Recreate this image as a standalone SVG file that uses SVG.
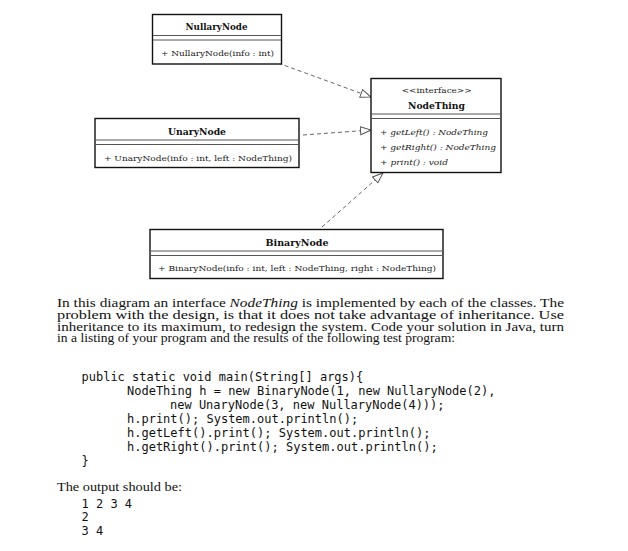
<svg xmlns="http://www.w3.org/2000/svg" width="628" height="551" viewBox="0 0 628 551">
<style>
.box{fill:#fff;stroke:#111;stroke-width:1.4}
.div{stroke:#555;stroke-width:1}
.ttl{font-family:"DejaVu Serif",serif;font-weight:bold;font-size:8.5px;fill:#111;text-anchor:middle}
.st{font-family:"DejaVu Serif",serif;font-size:8px;fill:#222;text-anchor:middle}
.m{font-family:"DejaVu Serif",serif;font-size:8px;fill:#222}
.mi{font-family:"DejaVu Serif",serif;font-size:8px;font-style:italic;fill:#222}
.con{fill:none;stroke:#666;stroke-width:1;stroke-dasharray:4 3}
.p{font-family:"Liberation Serif","Times New Roman",serif;font-size:11.6px;fill:#111}
.c{font-family:"DejaVu Sans Mono",monospace;font-size:12px;fill:#111;white-space:pre}
</style>
<defs>
<marker id="tri" markerUnits="userSpaceOnUse" markerWidth="14" markerHeight="12" refX="11" refY="4.5" orient="auto">
<path d="M0.5,0.5 L11,4.5 L0.5,8.5 z" fill="#fff" stroke="#555" stroke-width="1"/>
</marker>
</defs>
<g id="connectors">
<path class="con" d="M278,63 L371,97" marker-end="url(#tri)"/>
<path class="con" d="M303,135 L371,130" marker-end="url(#tri)"/>
<path class="con" d="M322,227 L383,173" marker-end="url(#tri)"/>
</g>
<g id="NullaryNode">
<rect class="box" x="152.5" y="14.5" width="129" height="49.5"/>
<line class="div" x1="153" y1="35.5" x2="281" y2="35.5"/>
<line class="div" x1="153" y1="40" x2="281" y2="40"/>
<text class="ttl" x="216.5" y="30" textLength="62" lengthAdjust="spacingAndGlyphs">NullaryNode</text>
<text class="m" x="161" y="55.5" textLength="113" lengthAdjust="spacingAndGlyphs">+ NullaryNode(info : int)</text>
</g>
<g id="NodeThing">
<rect class="box" x="371" y="78.5" width="130" height="94"/>
<line class="div" x1="371.5" y1="114" x2="500.5" y2="114"/>
<line class="div" x1="371.5" y1="118.5" x2="500.5" y2="118.5"/>
<text class="st" x="436.7" y="93" textLength="70" lengthAdjust="spacingAndGlyphs">&lt;&lt;interface&gt;&gt;</text>
<text class="ttl" x="436.5" y="108.5" textLength="57" lengthAdjust="spacingAndGlyphs">NodeThing</text>
<text class="mi" x="380" y="135" textLength="108" lengthAdjust="spacingAndGlyphs">+ getLeft() : NodeThing</text>
<text class="mi" x="380" y="150" textLength="116" lengthAdjust="spacingAndGlyphs">+ getRight() : NodeThing</text>
<text class="mi" x="380" y="165" textLength="68" lengthAdjust="spacingAndGlyphs">+ print() : void</text>
</g>
<g id="UnaryNode">
<rect class="box" x="95" y="118.5" width="204" height="49"/>
<line class="div" x1="95.5" y1="140" x2="298.5" y2="140"/>
<line class="div" x1="95.5" y1="144.5" x2="298.5" y2="144.5"/>
<text class="ttl" x="197" y="134.5" textLength="58" lengthAdjust="spacingAndGlyphs">UnaryNode</text>
<text class="m" x="104" y="160.5" textLength="188" lengthAdjust="spacingAndGlyphs">+ UnaryNode(info : int, left : NodeThing)</text>
</g>
<g id="BinaryNode">
<rect class="box" x="150" y="229.5" width="293" height="49"/>
<line class="div" x1="150.5" y1="251" x2="442.5" y2="251"/>
<line class="div" x1="150.5" y1="255.5" x2="442.5" y2="255.5"/>
<text class="ttl" x="297" y="245.5" textLength="63" lengthAdjust="spacingAndGlyphs">BinaryNode</text>
<text class="m" x="158" y="270.5" textLength="278" lengthAdjust="spacingAndGlyphs">+ BinaryNode(info : int, left : NodeThing, right : NodeThing)</text>
</g>
<g id="text">
<text class="p" x="57" y="307" textLength="507" lengthAdjust="spacingAndGlyphs">In this diagram an interface <tspan font-style="italic">NodeThing</tspan> is implemented by each of the classes.  The</text>
<text class="p" x="57" y="318.8" textLength="507" lengthAdjust="spacingAndGlyphs">problem with the design, is that it does not take advantage of inheritance.  Use</text>
<text class="p" x="57" y="330.6" textLength="507" lengthAdjust="spacingAndGlyphs">inheritance to its maximum, to redesign the system.  Code your solution in Java, turn</text>
<text class="p" x="57" y="342.4" textLength="398" lengthAdjust="spacingAndGlyphs">in a listing of your program and the results of the following test program:</text>
<text class="c" x="81.5" y="381">public static void main(String[] args){</text>
<text class="c" x="127" y="395">NodeThing h = new BinaryNode(1, new NullaryNode(2),</text>
<text class="c" x="170" y="409">new UnaryNode(3, new NullaryNode(4)));</text>
<text class="c" x="127" y="423">h.print(); System.out.println();</text>
<text class="c" x="127" y="437">h.getLeft().print(); System.out.println();</text>
<text class="c" x="127" y="451">h.getRight().print(); System.out.println();</text>
<text class="c" x="81.5" y="465">}</text>
<text class="p" x="57" y="490.5" font-size="13" textLength="125" lengthAdjust="spacingAndGlyphs">The output should be:</text>
<text class="c" x="81.5" y="507.5">1 2 3 4</text>
<text class="c" x="81.5" y="521">2</text>
<text class="c" x="81.5" y="534.5">3 4</text>
</g>
</svg>
